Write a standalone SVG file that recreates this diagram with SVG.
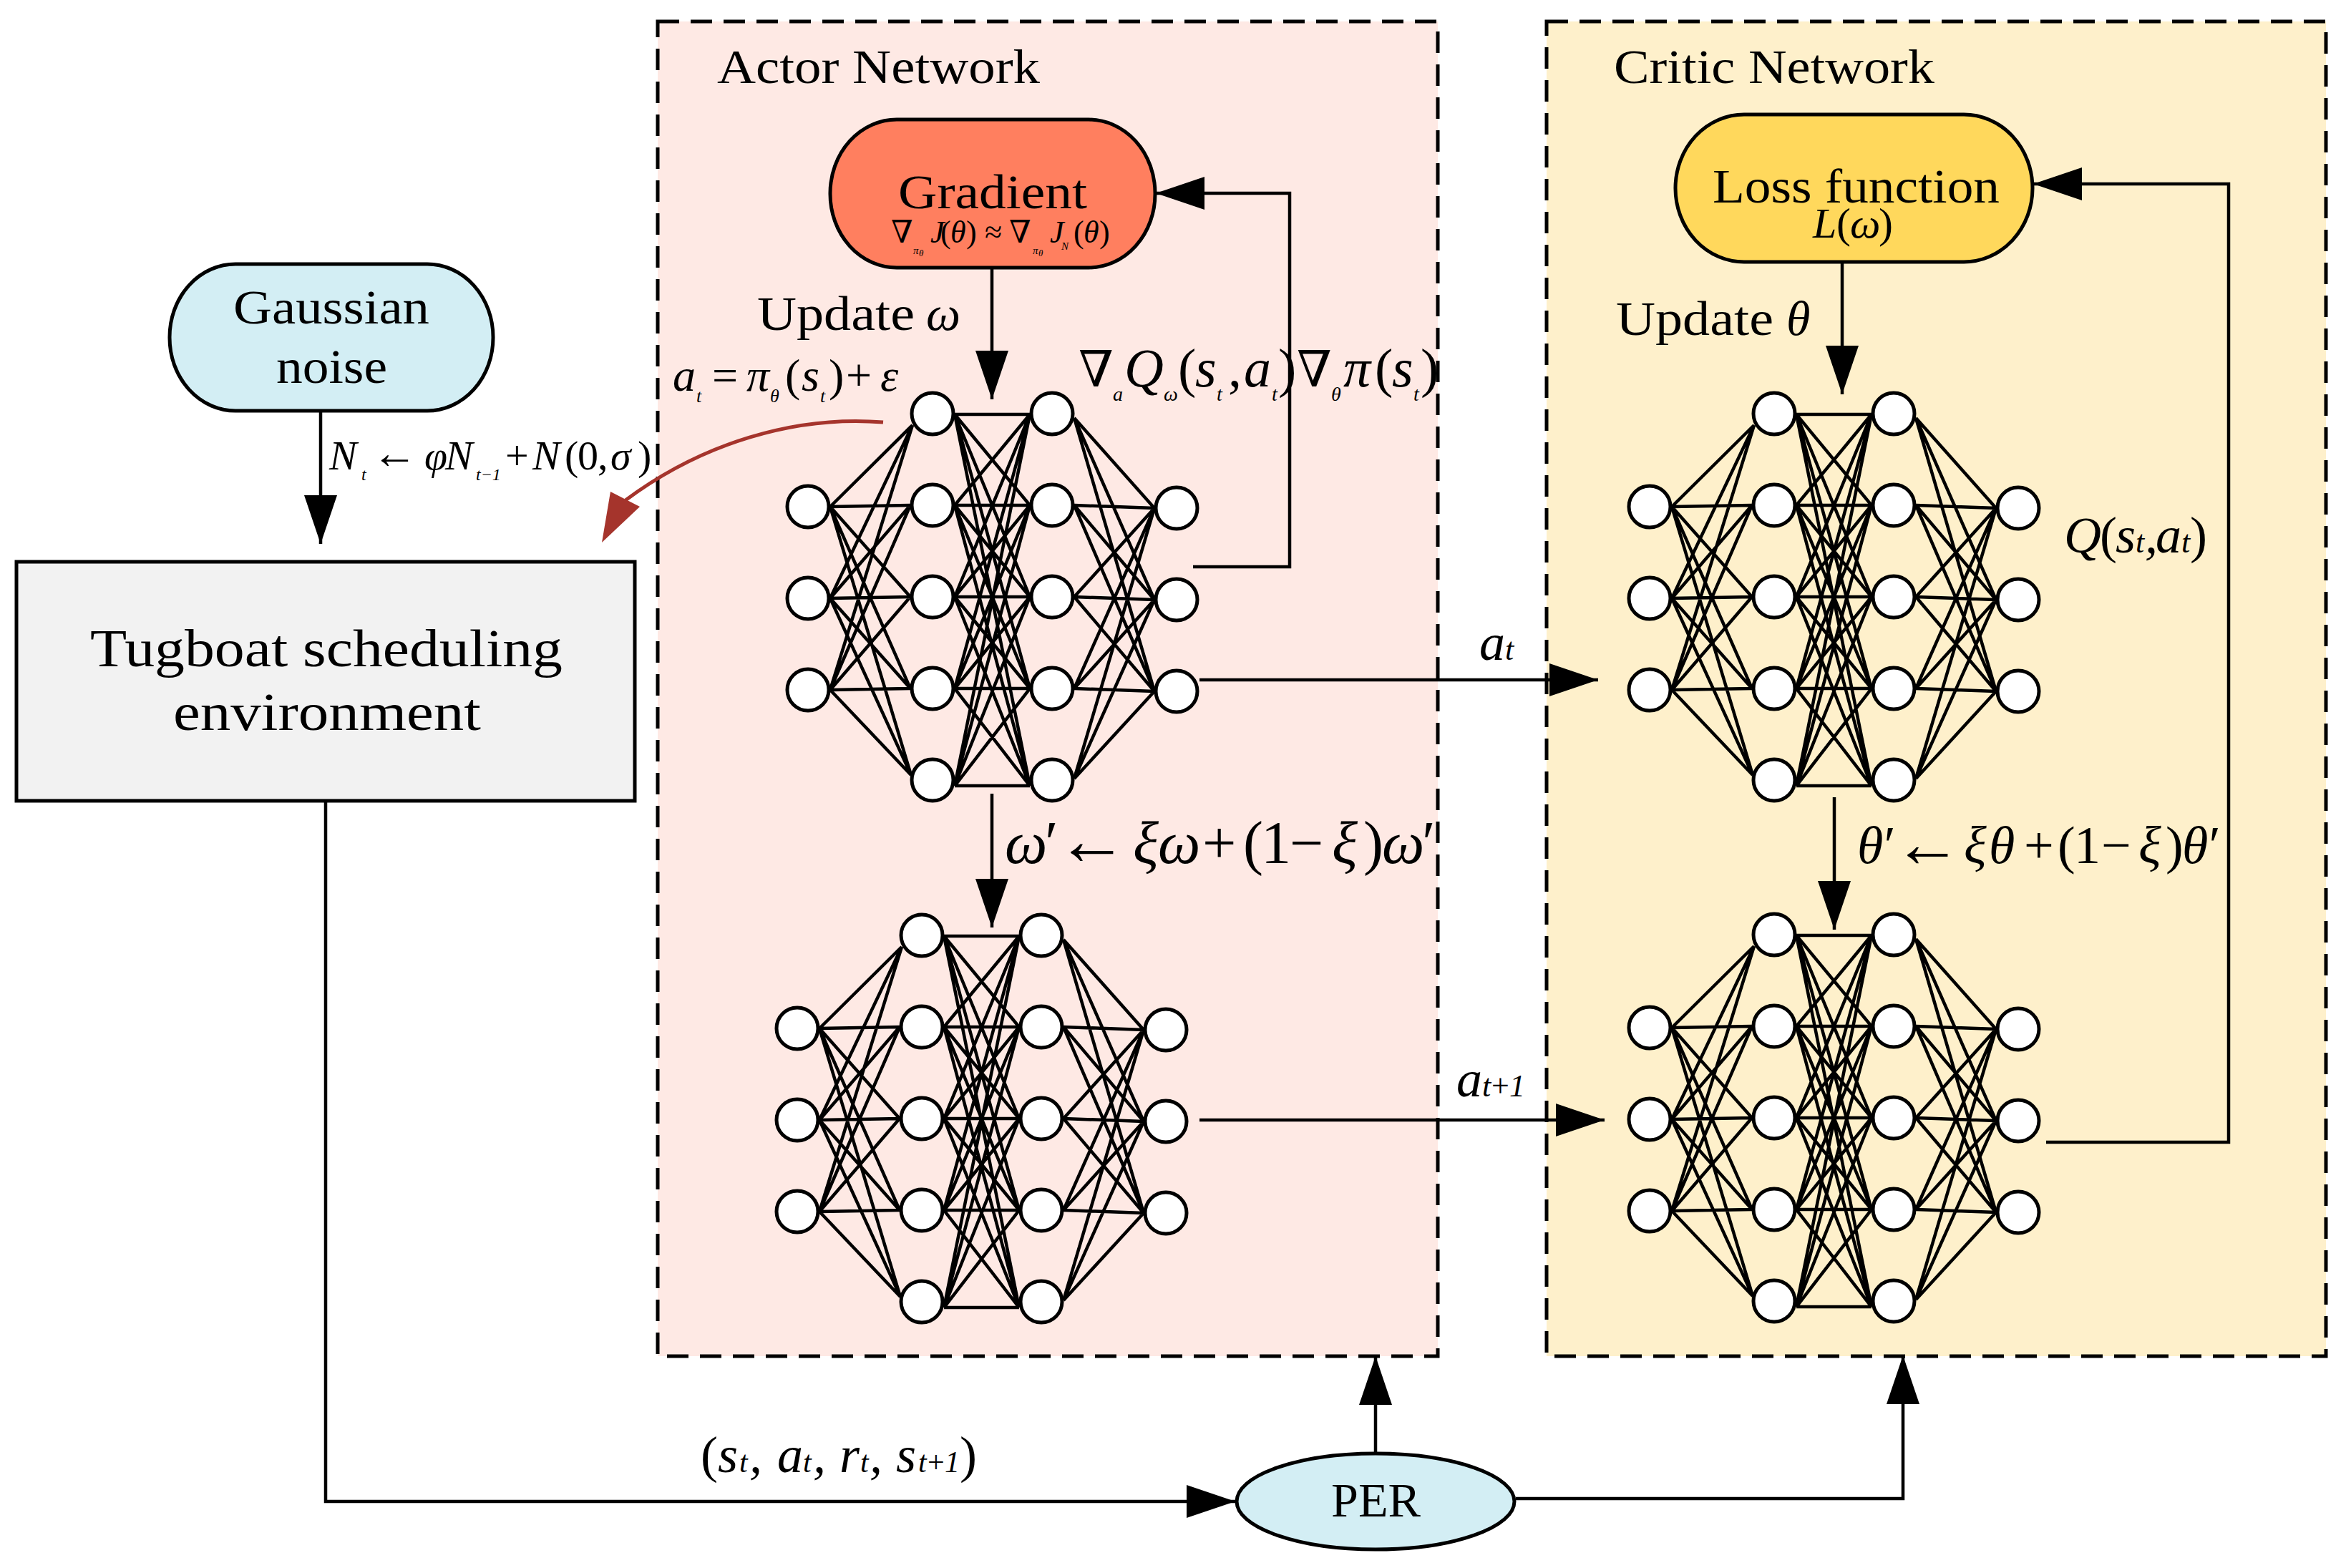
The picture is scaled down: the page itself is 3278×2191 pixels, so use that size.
<svg xmlns="http://www.w3.org/2000/svg" xmlns:xlink="http://www.w3.org/1999/xlink" width="3278" height="2191" viewBox="0 0 3278 2191">
<style>
text{font-family:"Liberation Serif","DejaVu Serif",serif;fill:#000}
.l{font-size:68px}
.m{font-style:italic}
.u{font-style:normal}
.box{stroke:#000;stroke-width:5;stroke-dasharray:30 16}
.n{stroke:#000;stroke-width:5}
.c{fill:none;stroke:#000;stroke-width:4.5}
.a{marker-end:url(#head)}
.links{fill:none;stroke:#000;stroke-width:4.5}
.neuron{fill:#fff;stroke:#000;stroke-width:5}
</style>
<defs>
<marker id="head" markerUnits="userSpaceOnUse" markerWidth="68" markerHeight="46" viewBox="0 0 68 46" refX="68" refY="23" orient="auto"><path d="M0 0L68 23L0 46Z" fill="#000"/></marker>
<g id="net">
<path class="links" d="M31 130L146 16M31 130L143 128M31 130L143 256M31 130L143 384M31 130L144 505M31 258L146 16M31 258L143 128M31 258L143 256M31 258L143 384M31 258L144 505M31 386L146 16M31 386L143 128M31 386L143 256M31 386L143 384M31 386L144 505M205 1L310 1M205 1L310 128M205 1L310 256M205 1L310 384M205 1L310 520M205 128L310 1M205 128L310 128M205 128L310 256M205 128L310 384M205 128L310 520M205 256L310 1M205 256L310 128M205 256L310 256M205 256L310 384M205 256L310 520M205 384L310 1M205 384L310 128M205 384L310 256M205 384L310 384M205 384L310 520M205 520L310 1M205 520L310 128M205 520L310 256M205 520L310 384M205 520L310 520M372 6L484 132M372 6L484 260M372 6L484 388M372 128L484 132M372 128L484 260M372 128L484 388M372 256L484 132M372 256L484 260M372 256L484 388M372 384L484 132M372 384L484 260M372 384L484 388M372 510L484 132M372 510L484 260M372 510L484 388"/>
<g class="neuron"><circle cx="0" cy="130" r="29"/><circle cx="0" cy="258" r="29"/><circle cx="0" cy="386" r="29"/><circle cx="174" cy="0" r="29"/><circle cx="174" cy="128" r="29"/><circle cx="174" cy="256" r="29"/><circle cx="174" cy="384" r="29"/><circle cx="174" cy="512" r="29"/><circle cx="341" cy="0" r="29"/><circle cx="341" cy="128" r="29"/><circle cx="341" cy="256" r="29"/><circle cx="341" cy="384" r="29"/><circle cx="341" cy="512" r="29"/><circle cx="515" cy="132" r="29"/><circle cx="515" cy="260" r="29"/><circle cx="515" cy="388" r="29"/></g>
</g>
</defs>
<rect width="3278" height="2191" fill="#fff"/>
<g id="actor-box"><rect class="box" x="919" y="30" width="1090" height="1865" fill="#FEE9E4"/><text class="l" x="1002" y="116" textLength="451" lengthAdjust="spacingAndGlyphs">Actor Network</text></g>
<g id="critic-box"><rect class="box" x="2161" y="30" width="1089" height="1865" fill="#FEF0CB"/><text class="l" x="2255" y="116" textLength="448" lengthAdjust="spacingAndGlyphs">Critic Network</text></g>
<g id="connectors">
<path class="c a" d="M1386 373V558"/>
<path class="c a" d="M1667 792H1802V270H1615"/>
<path class="c a" d="M1386 1109V1296"/>
<path class="c a" d="M1676 950H2233"/>
<path class="c a" d="M1676 1565H2242"/>
<path class="c a" d="M2574 366V551"/>
<path class="c a" d="M2563 1114V1299"/>
<path class="c a" d="M2859 1596H3114V257H2841"/>
<path class="c a" d="M448 574V760"/>
<path class="c a" d="M455 1118V2098H1726"/>
<path class="c a" d="M1922 2029V1895"/>
<path class="c a" d="M2118 2094H2659V1894"/>
<path d="M1234 590C1110 580 980 620 874 699" fill="none" stroke="#A5342C" stroke-width="5"/>
<polygon points="841,758 853,687 894,708" fill="#A5342C"/>
</g>
<g id="gaussian-noise"><rect class="n" x="237" y="369" width="452" height="205" rx="92" ry="102" fill="#D3EEF4"/><text class="l" x="326" y="452" textLength="274" lengthAdjust="spacingAndGlyphs">Gaussian</text><text class="l" x="386" y="535" textLength="155" lengthAdjust="spacingAndGlyphs">noise</text></g>
<g id="environment"><rect class="n" x="23" y="785" width="864" height="334" fill="#F2F2F2"/><text x="126" y="931" font-size="75" textLength="660" lengthAdjust="spacingAndGlyphs">Tugboat scheduling</text><text x="242" y="1020" font-size="75" textLength="430" lengthAdjust="spacingAndGlyphs">environment</text></g>
<g id="gradient"><rect class="n" x="1160" y="167" width="454" height="207" rx="93" ry="103" fill="#FF7F5F"/><text class="l" x="1255" y="291" textLength="264" lengthAdjust="spacingAndGlyphs">Gradient</text>
<text class="m" y="339" font-size="44"><tspan class="u" x="1245">∇</tspan><tspan x="1276" y="355" font-size="15">π</tspan><tspan x="1284" y="358" font-size="13">θ</tspan><tspan x="1300" y="339">J</tspan><tspan class="u" x="1314">(</tspan><tspan x="1328">θ</tspan><tspan class="u" x="1350">)</tspan><tspan class="u" x="1376">≈</tspan><tspan class="u" x="1410">∇</tspan><tspan x="1443" y="355" font-size="15">π</tspan><tspan x="1451" y="358" font-size="13">θ</tspan><tspan x="1467" y="339">J</tspan><tspan x="1483" y="349" font-size="15">N</tspan><tspan class="u" x="1500" y="339">(</tspan><tspan x="1514">θ</tspan><tspan class="u" x="1536">)</tspan></text></g>
<g id="loss-function"><rect class="n" x="2341" y="160" width="499" height="206" rx="96" ry="103" fill="#FFD85C"/><text class="l" x="2393" y="283" textLength="401" lengthAdjust="spacingAndGlyphs">Loss function</text><text class="m" y="332" font-size="60"><tspan x="2533">L</tspan><tspan class="u" x="2566">(</tspan><tspan x="2585">ω</tspan><tspan class="u" x="2625">)</tspan></text></g>
<g id="per"><ellipse class="n" cx="1922" cy="2098" rx="194" ry="67" fill="#D3EEF4"/><text class="l" x="1860" y="2119" textLength="125" lengthAdjust="spacingAndGlyphs">PER</text></g>
<use id="actor-net" xlink:href="#net" href="#net" transform="translate(1129 578)"/>
<use id="actor-target-net" xlink:href="#net" href="#net" transform="translate(1114 1307)"/>
<use id="critic-net" xlink:href="#net" href="#net" transform="translate(2305 578)"/>
<use id="critic-target-net" xlink:href="#net" href="#net" transform="translate(2305 1306)"/>
<g id="labels">
<text class="l" y="461"><tspan x="1058" textLength="220" lengthAdjust="spacingAndGlyphs">Update</tspan><tspan class="m" x="1294">ω</tspan></text>
<text class="l" y="468"><tspan x="2258" textLength="220" lengthAdjust="spacingAndGlyphs">Update</tspan><tspan class="m" x="2496">θ</tspan></text>
<text class="m" y="546" font-size="64"><tspan x="940">a</tspan><tspan x="973" y="562" font-size="26">t</tspan><tspan class="u" x="995" y="546">=</tspan><tspan x="1043">π</tspan><tspan x="1076" y="562" font-size="26">θ</tspan><tspan class="u" x="1097" y="546">(</tspan><tspan x="1120">s</tspan><tspan x="1146" y="562" font-size="26">t</tspan><tspan class="u" x="1158" y="546">)</tspan><tspan class="u" x="1182">+</tspan><tspan x="1230">ε</tspan></text>
<text class="m" y="540" font-size="76"><tspan class="u" x="1507" font-size="70">∇</tspan><tspan x="1555" y="560" font-size="28">a</tspan><tspan x="1571" y="540">Q</tspan><tspan x="1626" y="560" font-size="28">ω</tspan><tspan class="u" x="1646" y="540">(</tspan><tspan x="1670">s</tspan><tspan x="1700" y="560" font-size="28">t</tspan><tspan class="u" x="1716" y="540">,</tspan><tspan x="1738">a</tspan><tspan x="1777" y="560" font-size="28">t</tspan><tspan class="u" x="1786" y="540">)</tspan><tspan class="u" x="1812" font-size="70">∇</tspan><tspan x="1860" y="560" font-size="28">θ</tspan><tspan x="1877" y="540">π</tspan><tspan class="u" x="1921">(</tspan><tspan x="1945">s</tspan><tspan x="1975" y="560" font-size="28">t</tspan><tspan class="u" x="1985" y="540">)</tspan></text>
<text class="m" y="656" font-size="58"><tspan x="460">N</tspan><tspan x="505" y="671" font-size="24">t</tspan><tspan class="u" x="520" y="654" font-size="63">←</tspan><tspan x="593" y="656">φ</tspan><tspan x="622">N</tspan><tspan x="665" y="671" font-size="24">t−1</tspan><tspan class="u" x="706" y="656">+</tspan><tspan x="744">N</tspan><tspan class="u" x="789">(</tspan><tspan class="u" x="807">0</tspan><tspan class="u" x="835">,</tspan><tspan x="853">σ</tspan><tspan class="u" x="891">)</tspan></text>
<text class="m" y="1206" font-size="84"><tspan x="1404">ω</tspan><tspan x="1455">′</tspan><tspan class="u" x="1476" y="1208" font-size="100">←</tspan><tspan x="1583" y="1206">ξ</tspan><tspan x="1618">ω</tspan><tspan class="u" x="1680">+</tspan><tspan class="u" x="1737">(</tspan><tspan class="u" x="1762">1</tspan><tspan class="u" x="1802">−</tspan><tspan x="1861">ξ</tspan><tspan class="u" x="1905">)</tspan><tspan x="1931">ω</tspan><tspan x="1982">′</tspan></text>
<text class="m" y="1206" font-size="74"><tspan x="2595">θ</tspan><tspan x="2628">′</tspan><tspan class="u" x="2646" y="1211" font-size="95">←</tspan><tspan x="2744" y="1206">ξ</tspan><tspan x="2779">θ</tspan><tspan class="u" x="2828">+</tspan><tspan class="u" x="2875">(</tspan><tspan class="u" x="2898">1</tspan><tspan class="u" x="2936">−</tspan><tspan x="2988">ξ</tspan><tspan class="u" x="3026">)</tspan><tspan x="3049">θ</tspan><tspan x="3082">′</tspan></text>
<text class="m" y="772" font-size="72"><tspan x="2884">Q</tspan><tspan class="u" x="2934">(</tspan><tspan x="2956">s</tspan><tspan x="2984" font-size="44">t</tspan><tspan x="2997">,</tspan><tspan x="3012">a</tspan><tspan x="3048" font-size="44">t</tspan><tspan class="u" x="3060">)</tspan></text>
<text class="m" y="922" font-size="72"><tspan x="2067">a</tspan><tspan x="2103" font-size="44">t</tspan></text>
<text class="m" y="1532" font-size="72"><tspan x="2035">a</tspan><tspan x="2071" font-size="44">t</tspan><tspan class="u" x="2084" font-size="44">+</tspan><tspan x="2109" font-size="44">1</tspan></text>
<text class="m" y="2057" font-size="72"><tspan class="u" x="979">(</tspan><tspan x="1003">s</tspan><tspan x="1033" font-size="42">t</tspan><tspan x="1047">,</tspan><tspan x="1086">a</tspan><tspan x="1122" font-size="42">t</tspan><tspan x="1136">,</tspan><tspan x="1173">r</tspan><tspan x="1202" font-size="42">t</tspan><tspan x="1215">,</tspan><tspan x="1252">s</tspan><tspan x="1283" font-size="42">t</tspan><tspan x="1296" font-size="42" class="u">+</tspan><tspan x="1320" font-size="42">1</tspan><tspan class="u" x="1341">)</tspan></text>
</g>
</svg>
